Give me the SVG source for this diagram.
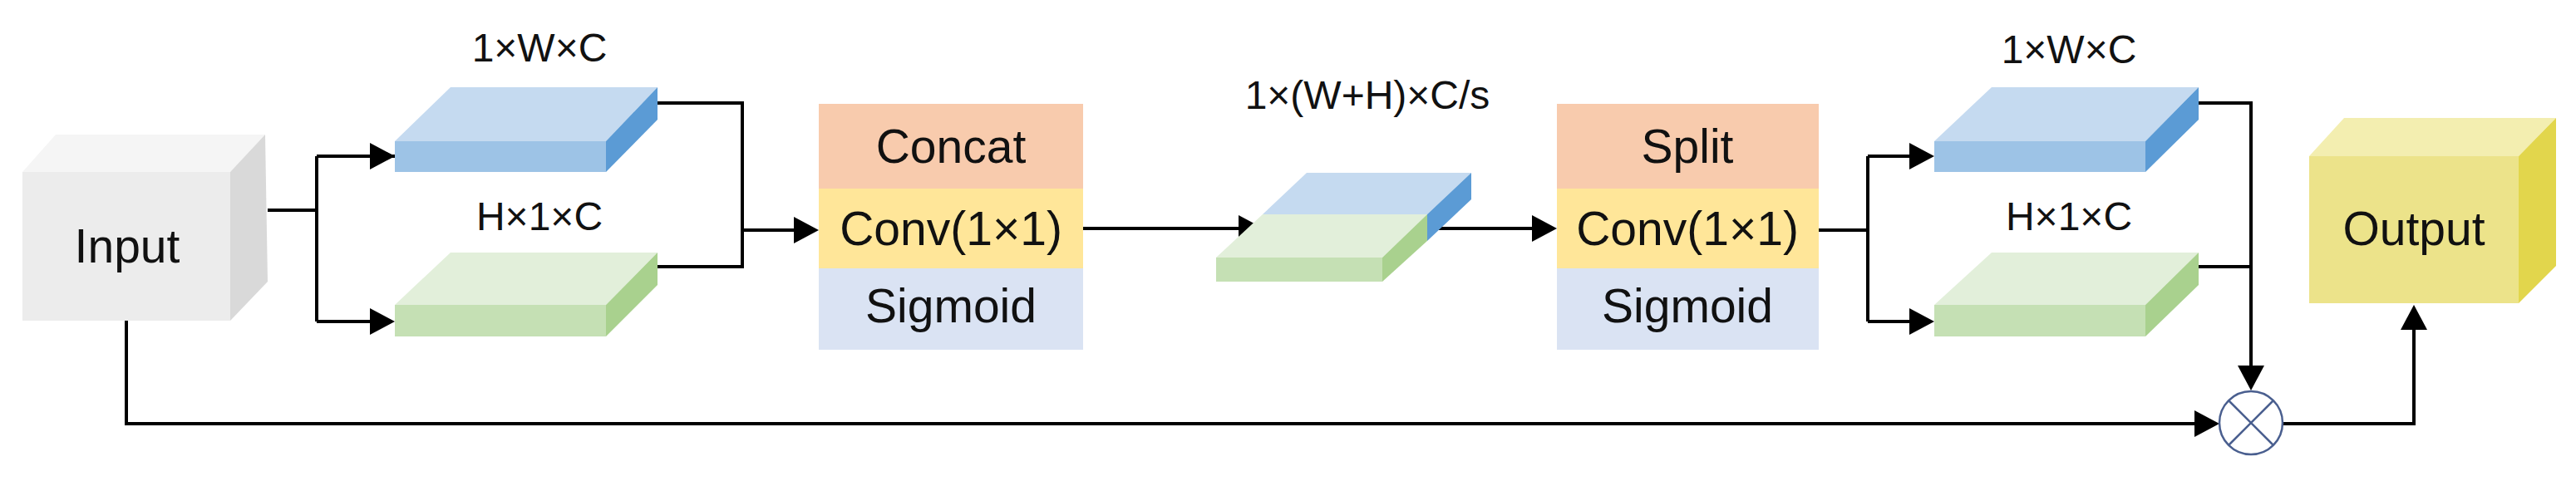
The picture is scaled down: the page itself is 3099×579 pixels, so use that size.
<svg xmlns="http://www.w3.org/2000/svg" width="3099" height="579" viewBox="0 0 3099 579">
<defs>
<marker id="ah" markerWidth="10" markerHeight="10" refX="10" refY="5" orient="auto" markerUnits="userSpaceOnUse" viewBox="0 0 10 10" style="overflow:visible">
<path d="M0,0 L10,5 L0,10 Z" fill="#000"/>
</marker>
<style>
text{font-family:"Liberation Sans",Arial,sans-serif;fill:#111;text-anchor:middle}
.big{font-size:57px}
.lab{font-size:48px}
.ln{fill:none;stroke:#000;stroke-width:4}
.ar{marker-end:url(#ah)}
.bt{fill:#c5daf0}.bf{fill:#9dc3e6}.bs{fill:#5b9bd5}
.gt{fill:#e2efda}.gf{fill:#c5e0b4}.gs{fill:#a9d18e}
</style>
</defs>
<g id="connectors">
<path class="ln" d="M322,253 H381 M381,188 V387"/>
<path class="ln ar" d="M381,188 H475" style="marker-end:url(#ah)"/>
<path class="ln" d="M381,188 H445"/>
<path class="ln" d="M381,387 H445"/>
<path d="M445,172 L475,188 L445,204 Z M445,371 L475,387 L445,403 Z" fill="#000"/>
<path class="ln" d="M791,124 H893 V321 H791 M893,277 H955"/>
<path d="M955,261 L985,277 L955,293 Z" fill="#000"/>
<path class="ln" d="M1303,275 H1490"/>
<path d="M1490,259 L1520,275 L1490,291 Z" fill="#000"/>
<path class="ln" d="M1712,275 H1843"/>
<path d="M1843,259 L1873,275 L1843,291 Z" fill="#000"/>
<path class="ln" d="M2188,277 H2247 M2247,188 V387 M2247,188 H2297 M2247,387 H2297"/>
<path d="M2297,172 L2327,188 L2297,204 Z M2297,371 L2327,387 L2297,403 Z" fill="#000"/>
<path class="ln" d="M2645,124 H2708 V440 M2645,321 H2708"/>
<path d="M2692,440 L2708,470 L2724,440 Z" fill="#000"/>
<path class="ln" d="M152,384 V510 H2640"/>
<path d="M2640,494 L2670,510 L2640,526 Z" fill="#000"/>
<path class="ln" d="M2746,510 H2904 V397"/>
<path d="M2888,397 L2904,367 L2920,397 Z" fill="#000"/>
</g>
<g id="input">
<polygon points="27,207 67,162 319,162 277,207" fill="#f5f5f5"/>
<polygon points="277,207 319,162 322,339 277,386" fill="#d9d9d9"/>
<rect x="27" y="207" width="250" height="179" fill="#ececec"/>
<text class="big" x="153" y="316">Input</text>
</g>
<g id="slab-w1">
<polygon points="475,170 542,105 791,105 729,170" class="bt"/>
<polygon points="729,170 791,105 791,144 729,207" class="bs"/>
<rect x="475" y="170" width="254" height="37" class="bf"/>
<text class="lab" x="649" y="74">1×W×C</text>
</g>
<g id="slab-h1">
<polygon points="475,367 542,304 791,304 729,367" class="gt"/>
<polygon points="729,367 791,304 791,343 729,405" class="gs"/>
<rect x="475" y="367" width="254" height="38" class="gf"/>
<text class="lab" x="649" y="277">H×1×C</text>
</g>
<g id="concat">
<rect x="985" y="125" width="318" height="102" fill="#f8cbad"/>
<rect x="985" y="227" width="318" height="96" fill="#ffe699"/>
<rect x="985" y="323" width="318" height="98" fill="#dae3f3"/>
<text class="big" x="1144" y="196">Concat</text>
<text class="big" x="1144" y="295">Conv(1×1)</text>
<text class="big" x="1144" y="388">Sigmoid</text>
</g>
<g id="mid-slab">
<polygon points="1572,208 1770,208 1717,258 1519,258" class="bt"/>
<polygon points="1519,258 1717,258 1663,310 1463,310" class="gt"/>
<polygon points="1770,208 1770,240 1717,290 1717,258" class="bs"/>
<polygon points="1717,258 1717,290 1663,339 1663,310" class="gs"/>
<polygon points="1717,290 1770,240 1770,240 1717,290" class="gs"/>
<rect x="1463" y="310" width="200" height="29" class="gf"/>
<text class="lab" x="1645" y="131">1×(W+H)×C/s</text>
</g>
<g id="split">
<rect x="1873" y="125" width="315" height="102" fill="#f8cbad"/>
<rect x="1873" y="227" width="315" height="96" fill="#ffe699"/>
<rect x="1873" y="323" width="315" height="98" fill="#dae3f3"/>
<text class="big" x="2030" y="196">Split</text>
<text class="big" x="2030" y="295">Conv(1×1)</text>
<text class="big" x="2030" y="388">Sigmoid</text>
</g>
<g id="slab-w2">
<polygon points="2327,170 2396,105 2645,105 2581,170" class="bt"/>
<polygon points="2581,170 2645,105 2645,144 2581,207" class="bs"/>
<rect x="2327" y="170" width="254" height="37" class="bf"/>
<text class="lab" x="2489" y="76">1×W×C</text>
</g>
<g id="slab-h2">
<polygon points="2327,367 2396,304 2645,304 2581,367" class="gt"/>
<polygon points="2581,367 2645,304 2645,343 2581,405" class="gs"/>
<rect x="2327" y="367" width="254" height="38" class="gf"/>
<text class="lab" x="2489" y="277">H×1×C</text>
</g>
<g id="multiply">
<circle cx="2708" cy="509" r="38" fill="#fff" stroke="#4a5f8f" stroke-width="2.5"/>
<path d="M2681,482 L2735,536 M2735,482 L2681,536" stroke="#4a5f8f" stroke-width="2.5"/>
</g>
<g id="output">
<polygon points="2778,188 2820,142 3075,142 3030,188" fill="#f3eeb0"/>
<polygon points="3030,188 3075,142 3075,320 3030,365" fill="#e2d64c"/>
<rect x="2778" y="188" width="252" height="177" fill="#ece38a"/>
<text class="big" x="2904" y="295">Output</text>
</g>
</svg>
